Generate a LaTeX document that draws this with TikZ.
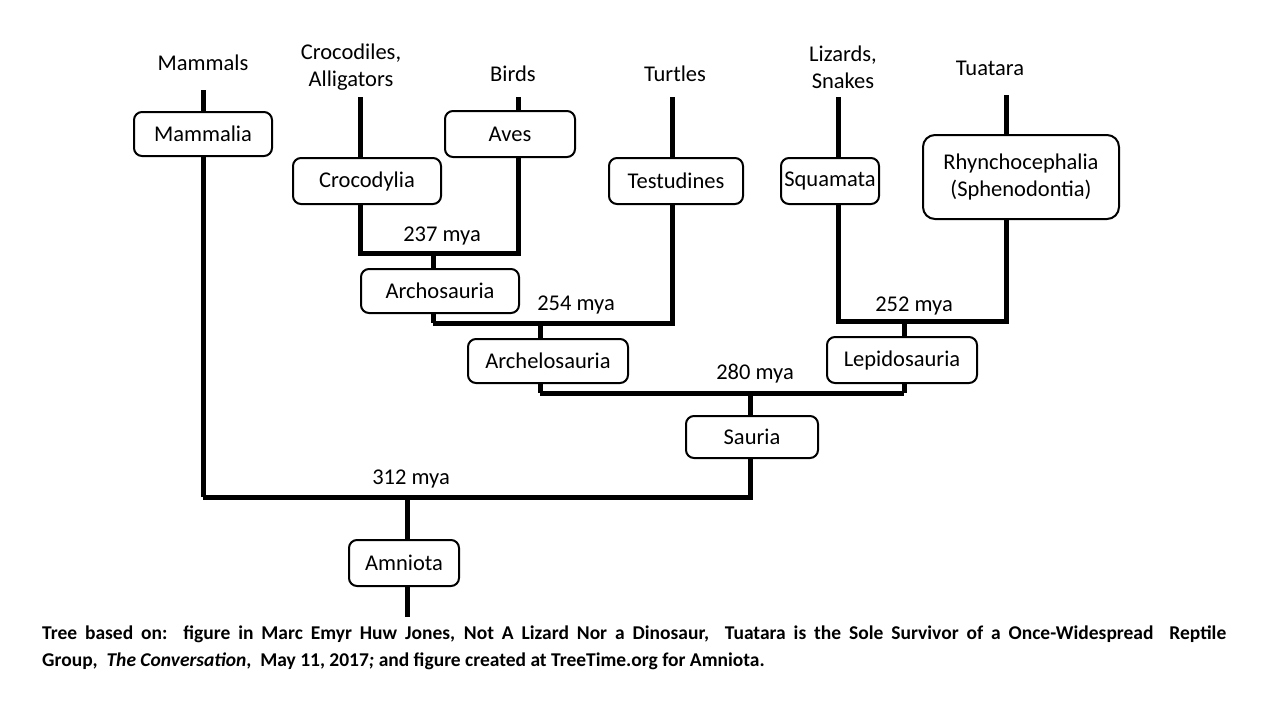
\documentclass[tikz,border=0pt]{standalone}
\usepackage{fontspec}
\setmainfont{Carlito}
\begin{document}
\begin{tikzpicture}[x=1pt,y=-1pt,
  box/.style={draw,line width=2pt,rounded corners=8pt,fill=white,font=\fontsize{22.5}{27}\selectfont,inner sep=0pt,align=center},
  lbl/.style={font=\fontsize{22.5}{27}\selectfont,align=center},
  br/.style={line width=5pt}]
\useasboundingbox (0,0) rectangle (1280,720);
% coordinates
\coordinate (mt) at (203,90); \coordinate (mb) at (203,497);
\coordinate (ct) at (360,97); \coordinate (cb) at (360,253);
\coordinate (bt) at (518,97); \coordinate (bb) at (518,253);
\coordinate (a1) at (433,253); \coordinate (a2) at (433,323);
\coordinate (tt) at (672,97); \coordinate (tb) at (672,323);
\coordinate (e1) at (540,323); \coordinate (e2) at (540,393);
\coordinate (lt) at (838,97); \coordinate (lb) at (838,321);
\coordinate (rt) at (1006,95); \coordinate (rb) at (1006,321);
\coordinate (p1) at (904,321); \coordinate (p2) at (904,393);
\coordinate (s1) at (750,393); \coordinate (s2) at (750,497);
\coordinate (n1) at (407,497); \coordinate (n2) at (407,617);
% branches
\draw[br] (mt) -- (mb);
\draw[br] (ct) -- (cb) -- (bb) -- (bt);
\draw[br] (a1) -- (a2);
\draw[br] (a2) -- (tb) -- (tt);
\draw[br] (e1) -- (e2);
\draw[br] (lt) -- (lb) -- (rb) -- (rt);
\draw[br] (p1) -- (p2);
\draw[br] (e2) -- (p2);
\draw[br] (s1) -- (s2);
\draw[br] (mb) -- ([xshift=2.5pt]s2);
\draw[br] (n1) -- (n2);
% boxes
\node[box,minimum width=138pt,minimum height=44pt] (mam) at (203,134) {Mammalia};
\node[box,minimum width=148pt,minimum height=46pt] (cro) at (367,181) {Crocodylia};
\node[box,minimum width=130pt,minimum height=46pt] (ave) at (510,134) {Aves};
\node[box,minimum width=158pt,minimum height=44pt] (arc) at (440,291) {Archosauria};
\node[box,minimum width=134pt,minimum height=46pt] (tes) at (676,181) {Testudines};
\node[box,minimum width=98pt,minimum height=46pt] (squ) at (830,181) {Squamata};
\node[box,minimum width=160pt,minimum height=44pt] (arl) at (548,361) {Archelosauria};
\node[box,minimum width=196pt,minimum height=84pt,rounded corners=12pt] (rhy) at (1021,177) {Rhynchocephalia\\(Sphenodontia)};
\node[box,minimum width=150pt,minimum height=46pt] (lep) at (902,360) {Lepidosauria};
\node[box,minimum width=132pt,minimum height=42pt] (sau) at (752,437) {Sauria};
\node[box,minimum width=110pt,minimum height=46pt] (amn) at (404,563) {Amniota};
% labels
\node[lbl] (l1) at (203,63) {Mammals};
\node[lbl] (l2) at (351,67) {Crocodiles,\\Alligators};
\node[lbl] (l3) at (513,74) {Birds};
\node[lbl] (l4) at (675,74) {Turtles};
\node[lbl] (l5) at (843,67) {Lizards,\\Snakes};
\node[lbl] (l6) at (990,68) {Tuatara};
\node[lbl] (m1) at (442,236) {237 mya};
\node[lbl] (m2) at (576,305) {254 mya};
\node[lbl] (m3) at (914,306) {252 mya};
\node[lbl] (m4) at (755,374) {280 mya};
\node[lbl] (m5) at (411,479) {312 mya};
\node[anchor=north west,text width=1184pt,align=justify,inner sep=0pt,font=\bfseries\fontsize{19.5}{27}\selectfont] (foot) at (42,626)
{Tree based on:\ \ figure in Marc Emyr Huw Jones, Not A Lizard Nor a Dinosaur,\ \ Tuatara is the Sole Survivor of a Once-Widespread\ \ Reptile\linebreak Group,\ \ \textit{The Conversation},\ \ May 11, 2017\textit{;} and figure created at TreeTime.org\ for Amniota.};
\end{tikzpicture}
\end{document}
